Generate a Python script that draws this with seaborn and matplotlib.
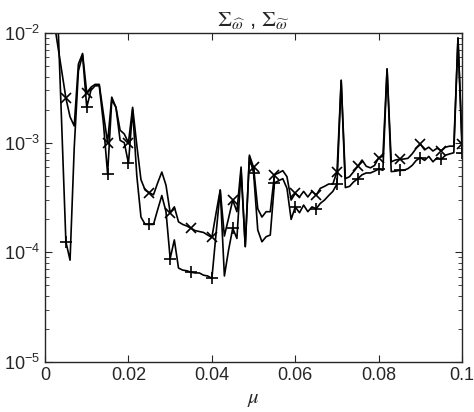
import numpy as np
import pandas as pd
import matplotlib
matplotlib.use("Agg")
import matplotlib.pyplot as plt
import seaborn as sns

# mu grid (step 0.001) and the two curves
mu = np.round(np.arange(1, 101) * 0.001, 3)

sigma_hat = [
    3.0e-2, 1.4e-2, 7.9e-3, 4.5e-3, 2.55e-3, 1.72e-3, 1.42e-3, 5.2e-3, 6.5e-3, 2.84e-3,
    3.2e-3, 3.4e-3, 3.4e-3, 1.83e-3, 1.0e-3, 2.6e-3, 2.1e-3, 1.3e-3, 1.2e-3, 1.0e-3,
    2.1e-3, 9.5e-4, 4.6e-4, 3.7e-4, 3.5e-4, 3.35e-4, 4.3e-4, 5.4e-4, 4.1e-4, 2.3e-4,
    2.6e-4, 1.9e-4, 1.8e-4, 1.74e-4, 1.66e-4, 1.58e-4, 1.55e-4, 1.52e-4, 1.44e-4, 1.37e-4,
    2.28e-4, 3.7e-4, 1.41e-4, 2.05e-4, 3.0e-4, 2.35e-4, 6.0e-4, 1.13e-4, 7.7e-4, 5.95e-4,
    2.5e-4, 2.1e-4, 2.35e-4, 2.35e-4, 5.1e-4, 5.3e-4, 5.56e-4, 4.9e-4, 3.0e-4, 3.46e-4,
    3.2e-4, 3.6e-4, 3.2e-4, 3.6e-4, 3.33e-4, 3.84e-4, 4.0e-4, 4.2e-4, 4.2e-4, 5.45e-4,
    3.7e-3, 4.7e-4, 4.9e-4, 5.45e-4, 6.1e-4, 6.95e-4, 6.1e-4, 5.9e-4, 6.2e-4, 7.3e-4,
    7.5e-4, 4.7e-3, 6.7e-4, 6.95e-4, 7.06e-4, 7.1e-4, 7.2e-4, 7.9e-4, 8.9e-4, 9.7e-4,
    8.6e-4, 9.1e-4, 8.4e-4, 8.9e-4, 8.45e-4, 9.1e-4, 9.3e-4, 9.3e-4, 9.0e-3, 9.7e-4,
]

sigma_tilde = [
    3.0e-2, 2.5e-2, 1.6e-2, 1.45e-3, 1.25e-4, 8.5e-5, 9.0e-4, 4.5e-3, 6.3e-3, 2.1e-3,
    3.0e-3, 3.3e-3, 3.3e-3, 1.5e-3, 5.2e-4, 2.45e-3, 2.1e-3, 1.05e-3, 1.0e-3, 6.5e-4,
    2.0e-3, 5.0e-4, 2.1e-4, 1.8e-4, 1.8e-4, 1.8e-4, 2.45e-4, 3.3e-4, 2.35e-4, 8.8e-5,
    1.3e-4, 7.2e-5, 6.9e-5, 6.8e-5, 6.6e-5, 6.5e-5, 6.5e-5, 6.2e-5, 6.1e-5, 5.8e-5,
    1.48e-4, 3.7e-4, 6.1e-5, 1.05e-4, 1.66e-4, 1.34e-4, 5.6e-4, 1.13e-4, 7.4e-4, 5.3e-4,
    1.6e-4, 1.25e-4, 1.39e-4, 1.44e-4, 4.3e-4, 4.5e-4, 4.7e-4, 3.84e-4, 2.0e-4, 2.6e-4,
    2.3e-4, 2.7e-4, 2.35e-4, 2.6e-4, 2.5e-4, 2.8e-4, 3.0e-4, 3.3e-4, 3.6e-4, 4.2e-4,
    3.7e-3, 3.9e-4, 4.0e-4, 4.4e-4, 4.7e-4, 5.1e-4, 5.3e-4, 5.3e-4, 5.5e-4, 5.76e-4,
    5.6e-4, 4.7e-3, 5.45e-4, 5.5e-4, 5.6e-4, 5.6e-4, 5.8e-4, 6.2e-4, 6.9e-4, 7.3e-4,
    6.9e-4, 7.5e-4, 6.7e-4, 7.3e-4, 7.06e-4, 7.7e-4, 7.9e-4, 8.1e-4, 9.0e-3, 8.1e-4,
]

df = pd.DataFrame({"mu": mu, "hat": sigma_hat, "tilde": sigma_tilde})

sns.set_style("ticks")
plt.rcParams["font.family"] = ["Liberation Sans", "DejaVu Sans"]
plt.rcParams["mathtext.fontset"] = "stix"
plt.rcParams["xtick.direction"] = "in"
plt.rcParams["ytick.direction"] = "in"

fig = plt.figure(figsize=(4.74, 4.12), dpi=100)
ax = fig.add_axes([0.095, 0.121, 0.88, 0.799])

sns.lineplot(data=df, x="mu", y="hat", ax=ax, color="black", linewidth=1.2,
             marker="x", markersize=7, markeredgewidth=1.2,
             markeredgecolor="black", markevery=(4, 5))
sns.lineplot(data=df, x="mu", y="tilde", ax=ax, color="black", linewidth=1.2,
             marker="+", markersize=9, markeredgewidth=1.2,
             markeredgecolor="black", markevery=(4, 5))

ax.set_yscale("log")
ax.set_xlim(0, 0.1)
ax.set_ylim(1e-5, 1e-2)
ax.set_xticks([0, 0.02, 0.04, 0.06, 0.08, 0.1])
ax.set_xticklabels(["0", "0.02", "0.04", "0.06", "0.08", "0.1"])
ax.tick_params(which="both", top=True, right=True, labelsize=13)
ax.tick_params(which="major", length=5)
ax.tick_params(which="minor", length=3)
ax.set_xlabel(r"$\mu$", fontsize=15, labelpad=4)
ax.set_ylabel("")
ax.set_title(r"$\Sigma_{\widehat{\omega}}$ , $\Sigma_{\widetilde{\omega}}$", fontsize=16, pad=5)
for s in ax.spines.values():
    s.set_linewidth(1.0)

fig.savefig("out.png", dpi=100)
